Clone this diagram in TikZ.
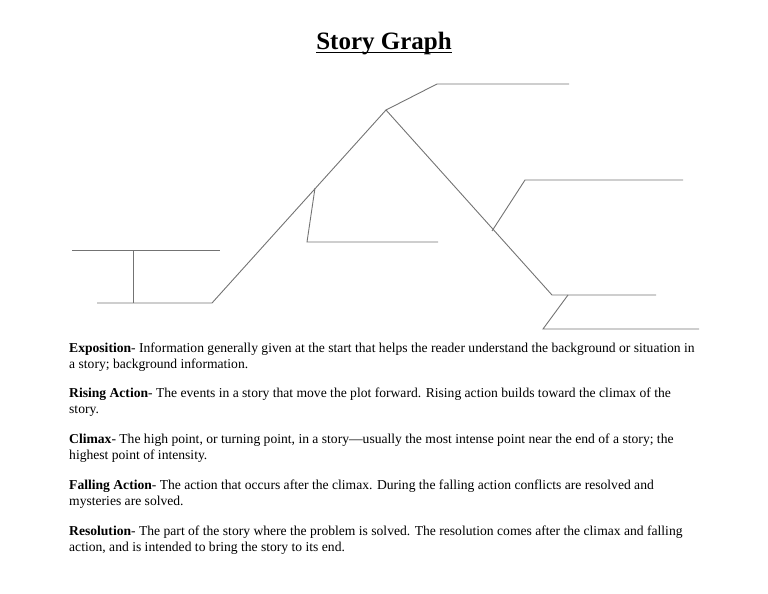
\documentclass[tikz,border=0pt]{standalone}
\usepackage{fontspec}
\setmainfont{Liberation Serif}
\begin{document}
\begin{tikzpicture}[x=1pt,y=-1pt,
  gline/.style={draw=black!55, line width=0.9pt},
  desc/.style={anchor=north west, align=left, inner sep=0pt, font=\fontsize{13.6}{16.2}\selectfont}]
\useasboundingbox (0,0) rectangle (768,594);
% title
\node[font=\bfseries\fontsize{25}{30}\selectfont, inner sep=0pt, anchor=base] (title) at (384,50) {Story Graph};
\draw[line width=1.4pt] ([yshift=-2.6pt]title.base west) -- ([yshift=-2.6pt]title.base east);
% graph points
\coordinate (eupL) at (72,250);
\coordinate (eupR) at (220,250);
\coordinate (evT) at (133,250);
\coordinate (evB) at (133,303);
\coordinate (base0) at (97,303);
\coordinate (start) at (212,303);
\coordinate (peak) at (386,110);
\coordinate (rA) at (315,188);
\coordinate (rB) at (307,242);
\coordinate (rC) at (438,242);
\coordinate (cA) at (437,84);
\coordinate (cB) at (569,84);
\coordinate (fend) at (552,295);
\coordinate (fA) at (492,231);
\coordinate (fB) at (525,180);
\coordinate (fC) at (683,180);
\coordinate (bend) at (656,295);
\coordinate (sA) at (568,295);
\coordinate (sB) at (543,329);
\coordinate (sC) at (699,329);
% lines
\draw[gline] (eupL) -- (eupR);
\draw[gline] (evT) -- (evB);
\draw[gline] (base0) -- (start) -- (peak) -- (fend) -- (bend);
\draw[gline] (rA) -- (rB) -- (rC);
\draw[gline] (peak) -- (cA) -- (cB);
\draw[gline] (fA) -- (fB) -- (fC);
\draw[gline] (sA) -- (sB) -- (sC);
% descriptions
\node[desc] (expo) at (69,342.5) {\textbf{Exposition}- Information generally given at the start that helps the reader understand the background or situation in\\a story; background information.};
\node[desc] (rise) at (69,388) {\textbf{Rising Action}- The events in a story that move the plot forward. Rising action builds toward the climax of the\\story.};
\node[desc] (clim) at (69,433.5) {\textbf{Climax}- The high point, or turning point, in a story—usually the most intense point near the end of a story; the\\highest point of intensity.};
\node[desc] (fall) at (69,479.5) {\textbf{Falling Action}- The action that occurs after the climax. During the falling action conflicts are resolved and\\mysteries are solved.};
\node[desc] (reso) at (69,525.5) {\textbf{Resolution}- The part of the story where the problem is solved. The resolution comes after the climax and falling\\action, and is intended to bring the story to its end.};
\end{tikzpicture}
\end{document}
